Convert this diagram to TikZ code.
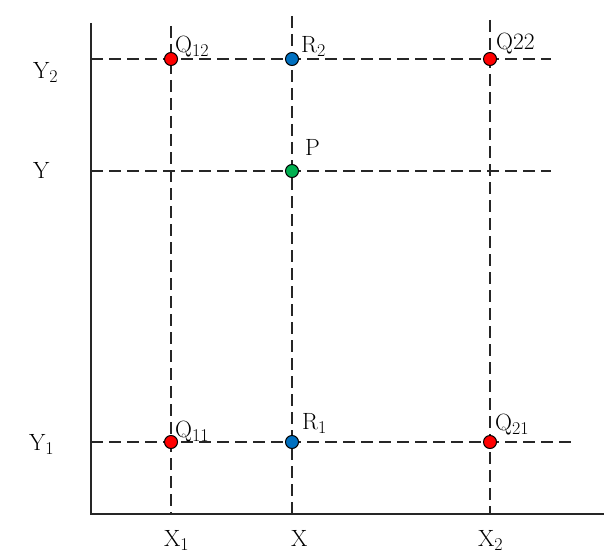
\documentclass[tikz,border=0pt]{standalone}
\definecolor{qred}{RGB}{255,0,0}
\definecolor{rblue}{RGB}{0,112,192}
\definecolor{pgreen}{RGB}{0,176,80}
\newcommand\subs[1]{\raisebox{-4pt}{\fontsize{18}{18}\selectfont #1}}
\begin{document}
\begin{tikzpicture}[x=1pt,y=-1pt,
  axisline/.style={line width=1.8pt, black!85},
  gridline/.style={line width=1.4pt, black!85, dash pattern=on 12pt off 6pt},
  dot/.style={circle, draw=black, line width=1pt, minimum size=13pt, inner sep=0pt},
  lbl/.style={font=\fontsize{23.5}{23.5}\selectfont, inner sep=0pt}]
\useasboundingbox (0,0) rectangle (609,556);
% axes
\coordinate (ytop) at (91,23);
\coordinate (orig) at (91,514);
\coordinate (xend) at (604,514);
% grid line ends
\coordinate (v1t) at (171,26); \coordinate (v1b) at (171,514);
\coordinate (v2t) at (292,16); \coordinate (v2b) at (292,514);
\coordinate (v3t) at (490,20); \coordinate (v3b) at (490,514);
\coordinate (h1l) at (91,59);  \coordinate (h1r) at (551,59);
\coordinate (h2l) at (91,171); \coordinate (h2r) at (551,171);
\coordinate (h3l) at (91,442); \coordinate (h3r) at (572,442);
\draw[gridline] (v1t) -- (v1b);
\draw[gridline] (v2t) -- (v2b);
\draw[gridline] (v3t) -- (v3b);
\draw[gridline] (h1l) -- (h1r);
\draw[gridline] (h2l) -- (h2r);
\draw[gridline] (h3l) -- (h3r);
\draw[axisline] (ytop) -- (orig) -- (xend);
% points
\node[dot, fill=qred] (q12) at (171,59) {};
\node[dot, fill=rblue] (r2) at (292,59) {};
\node[dot, fill=qred] (q22) at (490,59) {};
\node[dot, fill=pgreen] (p) at (292,171) {};
\node[dot, fill=qred] (q11) at (171,442) {};
\node[dot, fill=rblue] (r1) at (292,442) {};
\node[dot, fill=qred] (q21) at (490,442) {};
% point labels
\node[lbl, anchor=base west] (lq12) at (175,53) {Q\subs{12}};
\node[lbl, anchor=base west] (lr2) at (301,53) {R\subs{2}};
\node[lbl, anchor=base west] (lq22) at (496,50) {Q22};
\node[lbl, anchor=base west] (lp) at (305,155) {P};
\node[lbl, anchor=base west] (lq11) at (175,437) {Q\subs{11}};
\node[lbl, anchor=base west] (lr1) at (302,429) {R\subs{1}};
\node[lbl, anchor=base west] (lq21) at (495,430) {Q\subs{21}};
% axis labels
\node[lbl, anchor=base west] (ly2) at (33,79) {Y\subs{2}};
\node[lbl, anchor=base west] (ly) at (33,178) {Y};
\node[lbl, anchor=base west] (ly1) at (29,450) {Y\subs{1}};
\node[lbl, anchor=base west] (lx1) at (164,546) {X\subs{1}};
\node[lbl, anchor=base west] (lx) at (291,546) {X};
\node[lbl, anchor=base west] (lx2) at (478,546) {X\subs{2}};
\end{tikzpicture}
\end{document}
